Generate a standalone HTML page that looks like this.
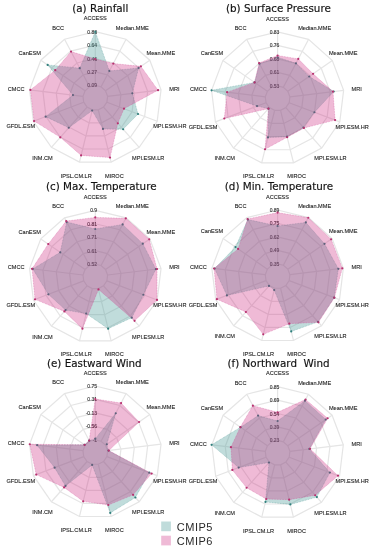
<!DOCTYPE html>
<html><head><meta charset="utf-8"><style>
html,body{margin:0;padding:0;background:#fff;width:375px;height:550px;overflow:hidden}
svg{display:block}
text{font-family:"Liberation Sans",Arial,sans-serif}
.tk{font-size:5px;fill:#333;stroke:#333;stroke-width:0.12px;text-anchor:end;dominant-baseline:central}
.al{font-size:5.6px;fill:#222;stroke:#222;stroke-width:0.1px;text-anchor:middle}
.ti{white-space:pre;font-family:"DejaVu Sans",sans-serif;font-size:10.35px;fill:#111;stroke:#111;stroke-width:0.15px;text-anchor:middle}
.lg{font-size:11px;letter-spacing:0.5px;fill:#2a2a2a;dominant-baseline:central}
</style></head><body>
<svg width="375" height="550" viewBox="0 0 375 550">
<polygon points="95.30,85.40 101.06,86.82 105.50,90.76 107.61,96.31 106.89,102.20 103.52,107.08 98.27,109.84 92.33,109.84 87.08,107.08 83.71,102.20 82.99,96.31 85.10,90.76 89.54,86.82" fill="none" stroke="#e5e5e5" stroke-width="1.2"/>
<polygon points="95.30,71.95 107.31,74.91 116.57,83.12 120.96,94.68 119.47,106.97 112.44,117.15 101.49,122.90 89.11,122.90 78.16,117.15 71.13,106.97 69.64,94.68 74.03,83.12 83.29,74.91" fill="none" stroke="#e5e5e5" stroke-width="1.2"/>
<polygon points="95.30,58.50 113.56,63.00 127.64,75.48 134.31,93.06 132.05,111.74 121.36,127.22 104.71,135.96 85.89,135.96 69.24,127.22 58.55,111.74 56.29,93.06 62.96,75.48 77.04,63.00" fill="none" stroke="#e5e5e5" stroke-width="1.2"/>
<polygon points="95.30,45.05 119.81,51.09 138.71,67.83 147.67,91.44 144.62,116.51 130.28,137.28 107.92,149.02 82.68,149.02 60.32,137.28 45.98,116.51 42.93,91.44 51.89,67.83 70.79,51.09" fill="none" stroke="#e5e5e5" stroke-width="1.2"/>
<polygon points="95.30,31.60 126.06,39.18 149.78,60.19 161.02,89.82 157.20,121.27 139.20,147.35 111.14,162.08 79.46,162.08 51.40,147.35 33.40,121.27 29.58,89.82 40.82,60.19 64.54,39.18" fill="none" stroke="#e5e5e5" stroke-width="1.2"/>
<line x1="95.30" y1="85.40" x2="95.30" y2="31.60" stroke="#e5e5e5" stroke-width="1.2"/>
<line x1="101.06" y1="86.82" x2="126.06" y2="39.18" stroke="#e5e5e5" stroke-width="1.2"/>
<line x1="105.50" y1="90.76" x2="149.78" y2="60.19" stroke="#e5e5e5" stroke-width="1.2"/>
<line x1="107.61" y1="96.31" x2="161.02" y2="89.82" stroke="#e5e5e5" stroke-width="1.2"/>
<line x1="106.89" y1="102.20" x2="157.20" y2="121.27" stroke="#e5e5e5" stroke-width="1.2"/>
<line x1="103.52" y1="107.08" x2="139.20" y2="147.35" stroke="#e5e5e5" stroke-width="1.2"/>
<line x1="98.27" y1="109.84" x2="111.14" y2="162.08" stroke="#e5e5e5" stroke-width="1.2"/>
<line x1="92.33" y1="109.84" x2="79.46" y2="162.08" stroke="#e5e5e5" stroke-width="1.2"/>
<line x1="87.08" y1="107.08" x2="51.40" y2="147.35" stroke="#e5e5e5" stroke-width="1.2"/>
<line x1="83.71" y1="102.20" x2="33.40" y2="121.27" stroke="#e5e5e5" stroke-width="1.2"/>
<line x1="82.99" y1="96.31" x2="29.58" y2="89.82" stroke="#e5e5e5" stroke-width="1.2"/>
<line x1="85.10" y1="90.76" x2="40.82" y2="60.19" stroke="#e5e5e5" stroke-width="1.2"/>
<line x1="89.54" y1="86.82" x2="64.54" y2="39.18" stroke="#e5e5e5" stroke-width="1.2"/>
<text x="97.10" y="85.40" class="tk">0.09</text>
<text x="97.10" y="71.95" class="tk">0.27</text>
<text x="97.10" y="58.50" class="tk">0.46</text>
<text x="97.10" y="45.05" class="tk">0.64</text>
<text x="97.10" y="31.60" class="tk">0.83</text>
<polygon points="95.30,31.80 109.38,70.97 138.59,67.92 132.33,93.30 138.03,114.01 123.15,129.24 102.98,128.97 92.14,110.62 68.78,127.74 45.65,116.63 72.96,95.09 47.65,64.91 79.73,68.14" fill="rgba(75,155,152,0.35)" stroke="rgba(60,140,138,0.6)" stroke-width="0.6" stroke-dasharray="0.8 0.8"/>
<circle cx="95.30" cy="31.80" r="1.1" fill="#2f7f7c"/>
<circle cx="109.38" cy="70.97" r="1.1" fill="#2f7f7c"/>
<circle cx="138.59" cy="67.92" r="1.1" fill="#2f7f7c"/>
<circle cx="132.33" cy="93.30" r="1.1" fill="#2f7f7c"/>
<circle cx="138.03" cy="114.01" r="1.1" fill="#2f7f7c"/>
<circle cx="123.15" cy="129.24" r="1.1" fill="#2f7f7c"/>
<circle cx="102.98" cy="128.97" r="1.1" fill="#2f7f7c"/>
<circle cx="92.14" cy="110.62" r="1.1" fill="#2f7f7c"/>
<circle cx="68.78" cy="127.74" r="1.1" fill="#2f7f7c"/>
<circle cx="45.65" cy="116.63" r="1.1" fill="#2f7f7c"/>
<circle cx="72.96" cy="95.09" r="1.1" fill="#2f7f7c"/>
<circle cx="47.65" cy="64.91" r="1.1" fill="#2f7f7c"/>
<circle cx="79.73" cy="68.14" r="1.1" fill="#2f7f7c"/>
<polygon points="95.30,59.00 113.28,63.53 140.89,66.33 158.04,90.18 124.00,108.69 117.85,123.25 110.04,157.61 81.11,155.38 60.29,137.32 34.06,121.03 30.38,89.92 55.22,70.14 71.04,51.58" fill="rgba(203,33,122,0.31)" stroke="rgba(205,60,140,0.6)" stroke-width="0.6" stroke-dasharray="0.8 0.8"/>
<circle cx="95.30" cy="59.00" r="1.1" fill="#b8306f"/>
<circle cx="113.28" cy="63.53" r="1.1" fill="#b8306f"/>
<circle cx="140.89" cy="66.33" r="1.1" fill="#b8306f"/>
<circle cx="158.04" cy="90.18" r="1.1" fill="#b8306f"/>
<circle cx="124.00" cy="108.69" r="1.1" fill="#b8306f"/>
<circle cx="117.85" cy="123.25" r="1.1" fill="#b8306f"/>
<circle cx="110.04" cy="157.61" r="1.1" fill="#b8306f"/>
<circle cx="81.11" cy="155.38" r="1.1" fill="#b8306f"/>
<circle cx="60.29" cy="137.32" r="1.1" fill="#b8306f"/>
<circle cx="34.06" cy="121.03" r="1.1" fill="#b8306f"/>
<circle cx="30.38" cy="89.92" r="1.1" fill="#b8306f"/>
<circle cx="55.22" cy="70.14" r="1.1" fill="#b8306f"/>
<circle cx="71.04" cy="51.58" r="1.1" fill="#b8306f"/>
<text x="95.30" y="20.45" class="al">ACCESS</text>
<text x="132.34" y="29.58" class="al">Median.MME</text>
<text x="160.89" y="54.88" class="al">Mean.MME</text>
<text x="174.42" y="90.54" class="al">MRI</text>
<text x="169.82" y="128.41" class="al">MPI.ESM.HR</text>
<text x="148.15" y="159.81" class="al">MPI.ESM.LR</text>
<text x="114.37" y="177.53" class="al">MIROC</text>
<text x="76.23" y="177.53" class="al">IPSL.CM.LR</text>
<text x="42.45" y="159.81" class="al">INM.CM</text>
<text x="20.78" y="128.41" class="al">GFDL.ESM</text>
<text x="16.18" y="90.54" class="al">CMCC</text>
<text x="29.71" y="54.88" class="al">CanESM</text>
<text x="58.26" y="29.58" class="al">BCC</text>
<text x="100.30" y="12.10" class="ti">(a) Rainfall</text>
<polygon points="277.60,85.90 283.36,87.32 287.80,91.26 289.91,96.81 289.19,102.70 285.82,107.58 280.57,110.34 274.63,110.34 269.38,107.58 266.01,102.70 265.29,96.81 267.40,91.26 271.84,87.32" fill="none" stroke="#e5e5e5" stroke-width="1.2"/>
<polygon points="277.60,72.38 289.65,75.34 298.94,83.57 303.34,95.18 301.84,107.49 294.79,117.71 283.80,123.47 271.40,123.47 260.41,117.71 253.36,107.49 251.86,95.18 256.26,83.57 265.55,75.34" fill="none" stroke="#e5e5e5" stroke-width="1.2"/>
<polygon points="277.60,58.85 295.93,63.37 310.07,75.89 316.76,93.54 314.49,112.29 303.76,127.83 287.04,136.60 268.16,136.60 251.44,127.83 240.71,112.29 238.44,93.54 245.13,75.89 259.27,63.37" fill="none" stroke="#e5e5e5" stroke-width="1.2"/>
<polygon points="277.60,45.32 302.22,51.39 321.20,68.21 330.19,91.91 327.13,117.09 312.73,137.95 290.28,149.74 264.92,149.74 242.47,137.95 228.07,117.09 225.01,91.91 234.00,68.21 252.98,51.39" fill="none" stroke="#e5e5e5" stroke-width="1.2"/>
<polygon points="277.60,31.80 308.50,39.42 332.33,60.52 343.62,90.28 339.78,121.88 321.70,148.08 293.51,162.87 261.69,162.87 233.50,148.08 215.42,121.88 211.58,90.28 222.87,60.52 246.70,39.42" fill="none" stroke="#e5e5e5" stroke-width="1.2"/>
<line x1="277.60" y1="85.90" x2="277.60" y2="31.80" stroke="#e5e5e5" stroke-width="1.2"/>
<line x1="283.36" y1="87.32" x2="308.50" y2="39.42" stroke="#e5e5e5" stroke-width="1.2"/>
<line x1="287.80" y1="91.26" x2="332.33" y2="60.52" stroke="#e5e5e5" stroke-width="1.2"/>
<line x1="289.91" y1="96.81" x2="343.62" y2="90.28" stroke="#e5e5e5" stroke-width="1.2"/>
<line x1="289.19" y1="102.70" x2="339.78" y2="121.88" stroke="#e5e5e5" stroke-width="1.2"/>
<line x1="285.82" y1="107.58" x2="321.70" y2="148.08" stroke="#e5e5e5" stroke-width="1.2"/>
<line x1="280.57" y1="110.34" x2="293.51" y2="162.87" stroke="#e5e5e5" stroke-width="1.2"/>
<line x1="274.63" y1="110.34" x2="261.69" y2="162.87" stroke="#e5e5e5" stroke-width="1.2"/>
<line x1="269.38" y1="107.58" x2="233.50" y2="148.08" stroke="#e5e5e5" stroke-width="1.2"/>
<line x1="266.01" y1="102.70" x2="215.42" y2="121.88" stroke="#e5e5e5" stroke-width="1.2"/>
<line x1="265.29" y1="96.81" x2="211.58" y2="90.28" stroke="#e5e5e5" stroke-width="1.2"/>
<line x1="267.40" y1="91.26" x2="222.87" y2="60.52" stroke="#e5e5e5" stroke-width="1.2"/>
<line x1="271.84" y1="87.32" x2="246.70" y2="39.42" stroke="#e5e5e5" stroke-width="1.2"/>
<text x="279.40" y="85.90" class="tk">0.53</text>
<text x="279.40" y="72.38" class="tk">0.61</text>
<text x="279.40" y="58.85" class="tk">0.68</text>
<text x="279.40" y="45.32" class="tk">0.76</text>
<text x="279.40" y="31.80" class="tk">0.83</text>
<polygon points="277.60,57.30 295.96,63.32 309.20,76.49 333.69,91.49 314.44,112.27 303.46,127.49 287.05,136.65 267.96,137.43 268.45,108.63 257.03,106.10 211.58,90.28 254.56,82.39 259.48,63.77" fill="rgba(75,155,152,0.35)" stroke="rgba(60,140,138,0.6)" stroke-width="0.6" stroke-dasharray="0.8 0.8"/>
<circle cx="277.60" cy="57.30" r="1.1" fill="#2f7f7c"/>
<circle cx="295.96" cy="63.32" r="1.1" fill="#2f7f7c"/>
<circle cx="309.20" cy="76.49" r="1.1" fill="#2f7f7c"/>
<circle cx="333.69" cy="91.49" r="1.1" fill="#2f7f7c"/>
<circle cx="314.44" cy="112.27" r="1.1" fill="#2f7f7c"/>
<circle cx="303.46" cy="127.49" r="1.1" fill="#2f7f7c"/>
<circle cx="287.05" cy="136.65" r="1.1" fill="#2f7f7c"/>
<circle cx="267.96" cy="137.43" r="1.1" fill="#2f7f7c"/>
<circle cx="268.45" cy="108.63" r="1.1" fill="#2f7f7c"/>
<circle cx="257.03" cy="106.10" r="1.1" fill="#2f7f7c"/>
<circle cx="211.58" cy="90.28" r="1.1" fill="#2f7f7c"/>
<circle cx="254.56" cy="82.39" r="1.1" fill="#2f7f7c"/>
<circle cx="259.48" cy="63.77" r="1.1" fill="#2f7f7c"/>
<polygon points="277.60,55.50 298.28,58.90 313.07,73.82 332.99,91.57 335.10,120.11 303.93,128.02 287.20,137.23 265.04,149.27 268.45,108.63 224.30,118.51 227.07,92.16 254.56,82.39 259.10,63.06" fill="rgba(203,33,122,0.31)" stroke="rgba(205,60,140,0.6)" stroke-width="0.6" stroke-dasharray="0.8 0.8"/>
<circle cx="277.60" cy="55.50" r="1.1" fill="#b8306f"/>
<circle cx="298.28" cy="58.90" r="1.1" fill="#b8306f"/>
<circle cx="313.07" cy="73.82" r="1.1" fill="#b8306f"/>
<circle cx="332.99" cy="91.57" r="1.1" fill="#b8306f"/>
<circle cx="335.10" cy="120.11" r="1.1" fill="#b8306f"/>
<circle cx="303.93" cy="128.02" r="1.1" fill="#b8306f"/>
<circle cx="287.20" cy="137.23" r="1.1" fill="#b8306f"/>
<circle cx="265.04" cy="149.27" r="1.1" fill="#b8306f"/>
<circle cx="268.45" cy="108.63" r="1.1" fill="#b8306f"/>
<circle cx="224.30" cy="118.51" r="1.1" fill="#b8306f"/>
<circle cx="227.07" cy="92.16" r="1.1" fill="#b8306f"/>
<circle cx="254.56" cy="82.39" r="1.1" fill="#b8306f"/>
<circle cx="259.10" cy="63.06" r="1.1" fill="#b8306f"/>
<text x="277.60" y="20.95" class="al">ACCESS</text>
<text x="314.64" y="30.08" class="al">Median.MME</text>
<text x="343.19" y="55.38" class="al">Mean.MME</text>
<text x="356.72" y="91.04" class="al">MRI</text>
<text x="352.12" y="128.91" class="al">MPI.ESM.HR</text>
<text x="330.45" y="160.31" class="al">MPI.ESM.LR</text>
<text x="296.67" y="178.03" class="al">MIROC</text>
<text x="258.53" y="178.03" class="al">IPSL.CM.LR</text>
<text x="224.75" y="160.31" class="al">INM.CM</text>
<text x="203.08" y="128.91" class="al">GFDL.ESM</text>
<text x="198.48" y="91.04" class="al">CMCC</text>
<text x="212.01" y="55.38" class="al">CanESM</text>
<text x="240.56" y="30.08" class="al">BCC</text>
<text x="278.40" y="12.00" class="ti">(b) Surface Pressure</text>
<polygon points="95.30,264.10 101.06,265.52 105.50,269.46 107.61,275.01 106.89,280.90 103.52,285.78 98.27,288.54 92.33,288.54 87.08,285.78 83.71,280.90 82.99,275.01 85.10,269.46 89.54,265.52" fill="none" stroke="#e5e5e5" stroke-width="1.2"/>
<polygon points="95.30,250.65 107.31,253.61 116.57,261.82 120.96,273.38 119.47,285.67 112.44,295.85 101.49,301.60 89.11,301.60 78.16,295.85 71.13,285.67 69.64,273.38 74.03,261.82 83.29,253.61" fill="none" stroke="#e5e5e5" stroke-width="1.2"/>
<polygon points="95.30,237.20 113.56,241.70 127.64,254.18 134.31,271.76 132.05,290.44 121.36,305.92 104.71,314.66 85.89,314.66 69.24,305.92 58.55,290.44 56.29,271.76 62.96,254.18 77.04,241.70" fill="none" stroke="#e5e5e5" stroke-width="1.2"/>
<polygon points="95.30,223.75 119.81,229.79 138.71,246.53 147.67,270.14 144.62,295.21 130.28,315.98 107.92,327.72 82.68,327.72 60.32,315.98 45.98,295.21 42.93,270.14 51.89,246.53 70.79,229.79" fill="none" stroke="#e5e5e5" stroke-width="1.2"/>
<polygon points="95.30,210.30 126.06,217.88 149.78,238.89 161.02,268.52 157.20,299.97 139.20,326.05 111.14,340.78 79.46,340.78 51.40,326.05 33.40,299.97 29.58,268.52 40.82,238.89 64.54,217.88" fill="none" stroke="#e5e5e5" stroke-width="1.2"/>
<line x1="95.30" y1="264.10" x2="95.30" y2="210.30" stroke="#e5e5e5" stroke-width="1.2"/>
<line x1="101.06" y1="265.52" x2="126.06" y2="217.88" stroke="#e5e5e5" stroke-width="1.2"/>
<line x1="105.50" y1="269.46" x2="149.78" y2="238.89" stroke="#e5e5e5" stroke-width="1.2"/>
<line x1="107.61" y1="275.01" x2="161.02" y2="268.52" stroke="#e5e5e5" stroke-width="1.2"/>
<line x1="106.89" y1="280.90" x2="157.20" y2="299.97" stroke="#e5e5e5" stroke-width="1.2"/>
<line x1="103.52" y1="285.78" x2="139.20" y2="326.05" stroke="#e5e5e5" stroke-width="1.2"/>
<line x1="98.27" y1="288.54" x2="111.14" y2="340.78" stroke="#e5e5e5" stroke-width="1.2"/>
<line x1="92.33" y1="288.54" x2="79.46" y2="340.78" stroke="#e5e5e5" stroke-width="1.2"/>
<line x1="87.08" y1="285.78" x2="51.40" y2="326.05" stroke="#e5e5e5" stroke-width="1.2"/>
<line x1="83.71" y1="280.90" x2="33.40" y2="299.97" stroke="#e5e5e5" stroke-width="1.2"/>
<line x1="82.99" y1="275.01" x2="29.58" y2="268.52" stroke="#e5e5e5" stroke-width="1.2"/>
<line x1="85.10" y1="269.46" x2="40.82" y2="238.89" stroke="#e5e5e5" stroke-width="1.2"/>
<line x1="89.54" y1="265.52" x2="64.54" y2="217.88" stroke="#e5e5e5" stroke-width="1.2"/>
<text x="97.10" y="264.10" class="tk">0.52</text>
<text x="97.10" y="250.65" class="tk">0.61</text>
<text x="97.10" y="237.20" class="tk">0.71</text>
<text x="97.10" y="223.75" class="tk">0.81</text>
<text x="97.10" y="210.30" class="tk">0.9</text>
<polygon points="95.30,229.00 122.63,224.44 142.79,243.72 155.86,269.15 143.36,294.73 131.77,317.67 108.15,328.64 86.16,313.59 65.59,310.03 48.36,294.30 32.76,268.91 60.24,252.30 66.72,222.04" fill="rgba(75,155,152,0.35)" stroke="rgba(60,140,138,0.6)" stroke-width="0.6" stroke-dasharray="0.8 0.8"/>
<circle cx="95.30" cy="229.00" r="1.1" fill="#2f7f7c"/>
<circle cx="122.63" cy="224.44" r="1.1" fill="#2f7f7c"/>
<circle cx="142.79" cy="243.72" r="1.1" fill="#2f7f7c"/>
<circle cx="155.86" cy="269.15" r="1.1" fill="#2f7f7c"/>
<circle cx="143.36" cy="294.73" r="1.1" fill="#2f7f7c"/>
<circle cx="131.77" cy="317.67" r="1.1" fill="#2f7f7c"/>
<circle cx="108.15" cy="328.64" r="1.1" fill="#2f7f7c"/>
<circle cx="86.16" cy="313.59" r="1.1" fill="#2f7f7c"/>
<circle cx="65.59" cy="310.03" r="1.1" fill="#2f7f7c"/>
<circle cx="48.36" cy="294.30" r="1.1" fill="#2f7f7c"/>
<circle cx="32.76" cy="268.91" r="1.1" fill="#2f7f7c"/>
<circle cx="60.24" cy="252.30" r="1.1" fill="#2f7f7c"/>
<circle cx="66.72" cy="222.04" r="1.1" fill="#2f7f7c"/>
<polygon points="95.30,217.40 125.83,218.33 149.21,239.29 157.05,269.00 157.01,299.90 134.56,320.81 98.48,289.41 82.45,328.64 64.40,311.38 34.99,299.37 32.06,268.82 48.23,244.01 66.21,221.07" fill="rgba(203,33,122,0.31)" stroke="rgba(205,60,140,0.6)" stroke-width="0.6" stroke-dasharray="0.8 0.8"/>
<circle cx="95.30" cy="217.40" r="1.1" fill="#b8306f"/>
<circle cx="125.83" cy="218.33" r="1.1" fill="#b8306f"/>
<circle cx="149.21" cy="239.29" r="1.1" fill="#b8306f"/>
<circle cx="157.05" cy="269.00" r="1.1" fill="#b8306f"/>
<circle cx="157.01" cy="299.90" r="1.1" fill="#b8306f"/>
<circle cx="134.56" cy="320.81" r="1.1" fill="#b8306f"/>
<circle cx="98.48" cy="289.41" r="1.1" fill="#b8306f"/>
<circle cx="82.45" cy="328.64" r="1.1" fill="#b8306f"/>
<circle cx="64.40" cy="311.38" r="1.1" fill="#b8306f"/>
<circle cx="34.99" cy="299.37" r="1.1" fill="#b8306f"/>
<circle cx="32.06" cy="268.82" r="1.1" fill="#b8306f"/>
<circle cx="48.23" cy="244.01" r="1.1" fill="#b8306f"/>
<circle cx="66.21" cy="221.07" r="1.1" fill="#b8306f"/>
<text x="95.30" y="199.15" class="al">ACCESS</text>
<text x="132.34" y="208.28" class="al">Median.MME</text>
<text x="160.89" y="233.58" class="al">Mean.MME</text>
<text x="174.42" y="269.24" class="al">MRI</text>
<text x="169.82" y="307.11" class="al">MPI.ESM.HR</text>
<text x="148.15" y="338.51" class="al">MPI.ESM.LR</text>
<text x="114.37" y="356.23" class="al">MIROC</text>
<text x="76.23" y="356.23" class="al">IPSL.CM.LR</text>
<text x="42.45" y="338.51" class="al">INM.CM</text>
<text x="20.78" y="307.11" class="al">GFDL.ESM</text>
<text x="16.18" y="269.24" class="al">CMCC</text>
<text x="29.71" y="233.58" class="al">CanESM</text>
<text x="58.26" y="208.28" class="al">BCC</text>
<text x="101.30" y="189.80" class="ti">(c) Max. Temperature</text>
<polygon points="277.60,263.80 283.36,265.22 287.80,269.16 289.91,274.71 289.19,280.60 285.82,285.48 280.57,288.24 274.63,288.24 269.38,285.48 266.01,280.60 265.29,274.71 267.40,269.16 271.84,265.22" fill="none" stroke="#e5e5e5" stroke-width="1.2"/>
<polygon points="277.60,250.35 289.61,253.31 298.87,261.52 303.26,273.08 301.77,285.37 294.74,295.55 283.79,301.30 271.41,301.30 260.46,295.55 253.43,285.37 251.94,273.08 256.33,261.52 265.59,253.31" fill="none" stroke="#e5e5e5" stroke-width="1.2"/>
<polygon points="277.60,236.90 295.86,241.40 309.94,253.88 316.61,271.46 314.35,290.14 303.66,305.62 287.01,314.36 268.19,314.36 251.54,305.62 240.85,290.14 238.59,271.46 245.26,253.88 259.34,241.40" fill="none" stroke="#e5e5e5" stroke-width="1.2"/>
<polygon points="277.60,223.45 302.11,229.49 321.01,246.23 329.97,269.84 326.92,294.91 312.58,315.68 290.22,327.42 264.98,327.42 242.62,315.68 228.28,294.91 225.23,269.84 234.19,246.23 253.09,229.49" fill="none" stroke="#e5e5e5" stroke-width="1.2"/>
<polygon points="277.60,210.00 308.36,217.58 332.08,238.59 343.32,268.22 339.50,299.67 321.50,325.75 293.44,340.48 261.76,340.48 233.70,325.75 215.70,299.67 211.88,268.22 223.12,238.59 246.84,217.58" fill="none" stroke="#e5e5e5" stroke-width="1.2"/>
<line x1="277.60" y1="263.80" x2="277.60" y2="210.00" stroke="#e5e5e5" stroke-width="1.2"/>
<line x1="283.36" y1="265.22" x2="308.36" y2="217.58" stroke="#e5e5e5" stroke-width="1.2"/>
<line x1="287.80" y1="269.16" x2="332.08" y2="238.59" stroke="#e5e5e5" stroke-width="1.2"/>
<line x1="289.91" y1="274.71" x2="343.32" y2="268.22" stroke="#e5e5e5" stroke-width="1.2"/>
<line x1="289.19" y1="280.60" x2="339.50" y2="299.67" stroke="#e5e5e5" stroke-width="1.2"/>
<line x1="285.82" y1="285.48" x2="321.50" y2="325.75" stroke="#e5e5e5" stroke-width="1.2"/>
<line x1="280.57" y1="288.24" x2="293.44" y2="340.48" stroke="#e5e5e5" stroke-width="1.2"/>
<line x1="274.63" y1="288.24" x2="261.76" y2="340.48" stroke="#e5e5e5" stroke-width="1.2"/>
<line x1="269.38" y1="285.48" x2="233.70" y2="325.75" stroke="#e5e5e5" stroke-width="1.2"/>
<line x1="266.01" y1="280.60" x2="215.70" y2="299.67" stroke="#e5e5e5" stroke-width="1.2"/>
<line x1="265.29" y1="274.71" x2="211.88" y2="268.22" stroke="#e5e5e5" stroke-width="1.2"/>
<line x1="267.40" y1="269.16" x2="223.12" y2="238.59" stroke="#e5e5e5" stroke-width="1.2"/>
<line x1="271.84" y1="265.22" x2="246.84" y2="217.58" stroke="#e5e5e5" stroke-width="1.2"/>
<text x="279.40" y="263.80" class="tk">0.35</text>
<text x="279.40" y="250.35" class="tk">0.49</text>
<text x="279.40" y="236.90" class="tk">0.62</text>
<text x="279.40" y="223.45" class="tk">0.75</text>
<text x="279.40" y="210.00" class="tk">0.89</text>
<polygon points="277.60,226.00 305.81,222.45 324.51,243.82 338.35,268.82 334.17,297.65 318.05,321.86 291.22,331.45 274.20,289.99 268.98,285.93 226.92,295.42 214.56,268.55 235.46,247.12 247.86,219.53" fill="rgba(75,155,152,0.35)" stroke="rgba(60,140,138,0.6)" stroke-width="0.6" stroke-dasharray="0.8 0.8"/>
<circle cx="277.60" cy="226.00" r="1.1" fill="#2f7f7c"/>
<circle cx="305.81" cy="222.45" r="1.1" fill="#2f7f7c"/>
<circle cx="324.51" cy="243.82" r="1.1" fill="#2f7f7c"/>
<circle cx="338.35" cy="268.82" r="1.1" fill="#2f7f7c"/>
<circle cx="334.17" cy="297.65" r="1.1" fill="#2f7f7c"/>
<circle cx="318.05" cy="321.86" r="1.1" fill="#2f7f7c"/>
<circle cx="291.22" cy="331.45" r="1.1" fill="#2f7f7c"/>
<circle cx="274.20" cy="289.99" r="1.1" fill="#2f7f7c"/>
<circle cx="268.98" cy="285.93" r="1.1" fill="#2f7f7c"/>
<circle cx="226.92" cy="295.42" r="1.1" fill="#2f7f7c"/>
<circle cx="214.56" cy="268.55" r="1.1" fill="#2f7f7c"/>
<circle cx="235.46" cy="247.12" r="1.1" fill="#2f7f7c"/>
<circle cx="247.86" cy="219.53" r="1.1" fill="#2f7f7c"/>
<polygon points="277.60,212.60 308.27,217.76 331.09,239.28 342.32,268.34 334.36,297.72 318.45,322.31 289.30,323.68 263.26,334.36 245.90,311.98 216.92,299.21 214.07,268.49 238.10,248.93 247.58,219.00" fill="rgba(203,33,122,0.31)" stroke="rgba(205,60,140,0.6)" stroke-width="0.6" stroke-dasharray="0.8 0.8"/>
<circle cx="277.60" cy="212.60" r="1.1" fill="#b8306f"/>
<circle cx="308.27" cy="217.76" r="1.1" fill="#b8306f"/>
<circle cx="331.09" cy="239.28" r="1.1" fill="#b8306f"/>
<circle cx="342.32" cy="268.34" r="1.1" fill="#b8306f"/>
<circle cx="334.36" cy="297.72" r="1.1" fill="#b8306f"/>
<circle cx="318.45" cy="322.31" r="1.1" fill="#b8306f"/>
<circle cx="289.30" cy="323.68" r="1.1" fill="#b8306f"/>
<circle cx="263.26" cy="334.36" r="1.1" fill="#b8306f"/>
<circle cx="245.90" cy="311.98" r="1.1" fill="#b8306f"/>
<circle cx="216.92" cy="299.21" r="1.1" fill="#b8306f"/>
<circle cx="214.07" cy="268.49" r="1.1" fill="#b8306f"/>
<circle cx="238.10" cy="248.93" r="1.1" fill="#b8306f"/>
<circle cx="247.58" cy="219.00" r="1.1" fill="#b8306f"/>
<text x="277.60" y="198.85" class="al">ACCESS</text>
<text x="314.64" y="207.98" class="al">Median.MME</text>
<text x="343.19" y="233.28" class="al">Mean.MME</text>
<text x="356.72" y="268.94" class="al">MRI</text>
<text x="352.12" y="306.81" class="al">MPI.ESM.HR</text>
<text x="330.45" y="338.21" class="al">MPI.ESM.LR</text>
<text x="296.67" y="355.93" class="al">MIROC</text>
<text x="258.53" y="355.93" class="al">IPSL.CM.LR</text>
<text x="224.75" y="338.21" class="al">INM.CM</text>
<text x="203.08" y="306.81" class="al">GFDL.ESM</text>
<text x="198.48" y="268.94" class="al">CMCC</text>
<text x="212.01" y="233.28" class="al">CanESM</text>
<text x="240.56" y="207.98" class="al">BCC</text>
<text x="279.00" y="189.90" class="ti">(d) Min. Temperature</text>
<polygon points="95.30,439.80 101.06,441.22 105.50,445.16 107.61,450.71 106.89,456.60 103.52,461.48 98.27,464.24 92.33,464.24 87.08,461.48 83.71,456.60 82.99,450.71 85.10,445.16 89.54,441.22" fill="none" stroke="#e5e5e5" stroke-width="1.2"/>
<polygon points="95.30,426.35 107.31,429.31 116.57,437.52 120.96,449.08 119.47,461.37 112.44,471.55 101.49,477.30 89.11,477.30 78.16,471.55 71.13,461.37 69.64,449.08 74.03,437.52 83.29,429.31" fill="none" stroke="#e5e5e5" stroke-width="1.2"/>
<polygon points="95.30,412.90 113.56,417.40 127.64,429.88 134.31,447.46 132.05,466.14 121.36,481.62 104.71,490.36 85.89,490.36 69.24,481.62 58.55,466.14 56.29,447.46 62.96,429.88 77.04,417.40" fill="none" stroke="#e5e5e5" stroke-width="1.2"/>
<polygon points="95.30,399.45 119.81,405.49 138.71,422.23 147.67,445.84 144.62,470.91 130.28,491.68 107.92,503.42 82.68,503.42 60.32,491.68 45.98,470.91 42.93,445.84 51.89,422.23 70.79,405.49" fill="none" stroke="#e5e5e5" stroke-width="1.2"/>
<polygon points="95.30,386.00 126.06,393.58 149.78,414.59 161.02,444.22 157.20,475.67 139.20,501.75 111.14,516.48 79.46,516.48 51.40,501.75 33.40,475.67 29.58,444.22 40.82,414.59 64.54,393.58" fill="none" stroke="#e5e5e5" stroke-width="1.2"/>
<line x1="95.30" y1="439.80" x2="95.30" y2="386.00" stroke="#e5e5e5" stroke-width="1.2"/>
<line x1="101.06" y1="441.22" x2="126.06" y2="393.58" stroke="#e5e5e5" stroke-width="1.2"/>
<line x1="105.50" y1="445.16" x2="149.78" y2="414.59" stroke="#e5e5e5" stroke-width="1.2"/>
<line x1="107.61" y1="450.71" x2="161.02" y2="444.22" stroke="#e5e5e5" stroke-width="1.2"/>
<line x1="106.89" y1="456.60" x2="157.20" y2="475.67" stroke="#e5e5e5" stroke-width="1.2"/>
<line x1="103.52" y1="461.48" x2="139.20" y2="501.75" stroke="#e5e5e5" stroke-width="1.2"/>
<line x1="98.27" y1="464.24" x2="111.14" y2="516.48" stroke="#e5e5e5" stroke-width="1.2"/>
<line x1="92.33" y1="464.24" x2="79.46" y2="516.48" stroke="#e5e5e5" stroke-width="1.2"/>
<line x1="87.08" y1="461.48" x2="51.40" y2="501.75" stroke="#e5e5e5" stroke-width="1.2"/>
<line x1="83.71" y1="456.60" x2="33.40" y2="475.67" stroke="#e5e5e5" stroke-width="1.2"/>
<line x1="82.99" y1="450.71" x2="29.58" y2="444.22" stroke="#e5e5e5" stroke-width="1.2"/>
<line x1="85.10" y1="445.16" x2="40.82" y2="414.59" stroke="#e5e5e5" stroke-width="1.2"/>
<line x1="89.54" y1="441.22" x2="64.54" y2="393.58" stroke="#e5e5e5" stroke-width="1.2"/>
<text x="97.10" y="439.80" class="tk">-1</text>
<text x="97.10" y="426.35" class="tk">-0.56</text>
<text x="97.10" y="412.90" class="tk">-0.13</text>
<text x="97.10" y="399.45" class="tk">0.31</text>
<text x="97.10" y="386.00" class="tk">0.75</text>
<polygon points="95.30,438.70 115.75,413.24 106.82,444.25 108.40,450.61 149.25,472.66 135.42,497.48 110.26,512.88 92.16,464.92 65.46,485.88 54.63,467.63 37.13,445.14 84.60,444.82 89.26,440.69" fill="rgba(75,155,152,0.35)" stroke="rgba(60,140,138,0.6)" stroke-width="0.6" stroke-dasharray="0.8 0.8"/>
<circle cx="95.30" cy="438.70" r="1.1" fill="#2f7f7c"/>
<circle cx="115.75" cy="413.24" r="1.1" fill="#2f7f7c"/>
<circle cx="106.82" cy="444.25" r="1.1" fill="#2f7f7c"/>
<circle cx="108.40" cy="450.61" r="1.1" fill="#2f7f7c"/>
<circle cx="149.25" cy="472.66" r="1.1" fill="#2f7f7c"/>
<circle cx="135.42" cy="497.48" r="1.1" fill="#2f7f7c"/>
<circle cx="110.26" cy="512.88" r="1.1" fill="#2f7f7c"/>
<circle cx="92.16" cy="464.92" r="1.1" fill="#2f7f7c"/>
<circle cx="65.46" cy="485.88" r="1.1" fill="#2f7f7c"/>
<circle cx="54.63" cy="467.63" r="1.1" fill="#2f7f7c"/>
<circle cx="37.13" cy="445.14" r="1.1" fill="#2f7f7c"/>
<circle cx="84.60" cy="444.82" r="1.1" fill="#2f7f7c"/>
<circle cx="89.26" cy="440.69" r="1.1" fill="#2f7f7c"/>
<polygon points="95.30,399.00 121.09,403.06 139.08,421.98 108.80,450.56 151.68,473.58 133.10,494.87 108.32,505.02 83.19,501.33 64.13,487.38 36.21,474.61 29.78,444.24 84.60,444.82 89.17,440.51" fill="rgba(203,33,122,0.31)" stroke="rgba(205,60,140,0.6)" stroke-width="0.6" stroke-dasharray="0.8 0.8"/>
<circle cx="95.30" cy="399.00" r="1.1" fill="#b8306f"/>
<circle cx="121.09" cy="403.06" r="1.1" fill="#b8306f"/>
<circle cx="139.08" cy="421.98" r="1.1" fill="#b8306f"/>
<circle cx="108.80" cy="450.56" r="1.1" fill="#b8306f"/>
<circle cx="151.68" cy="473.58" r="1.1" fill="#b8306f"/>
<circle cx="133.10" cy="494.87" r="1.1" fill="#b8306f"/>
<circle cx="108.32" cy="505.02" r="1.1" fill="#b8306f"/>
<circle cx="83.19" cy="501.33" r="1.1" fill="#b8306f"/>
<circle cx="64.13" cy="487.38" r="1.1" fill="#b8306f"/>
<circle cx="36.21" cy="474.61" r="1.1" fill="#b8306f"/>
<circle cx="29.78" cy="444.24" r="1.1" fill="#b8306f"/>
<circle cx="84.60" cy="444.82" r="1.1" fill="#b8306f"/>
<circle cx="89.17" cy="440.51" r="1.1" fill="#b8306f"/>
<text x="95.30" y="374.85" class="al">ACCESS</text>
<text x="132.34" y="383.98" class="al">Median.MME</text>
<text x="160.89" y="409.28" class="al">Mean.MME</text>
<text x="174.42" y="444.94" class="al">MRI</text>
<text x="169.82" y="482.81" class="al">MPI.ESM.HR</text>
<text x="148.15" y="514.21" class="al">MPI.ESM.LR</text>
<text x="114.37" y="531.93" class="al">MIROC</text>
<text x="76.23" y="531.93" class="al">IPSL.CM.LR</text>
<text x="42.45" y="514.21" class="al">INM.CM</text>
<text x="20.78" y="482.81" class="al">GFDL.ESM</text>
<text x="16.18" y="444.94" class="al">CMCC</text>
<text x="29.71" y="409.28" class="al">CanESM</text>
<text x="58.26" y="383.98" class="al">BCC</text>
<text x="94.30" y="367.00" class="ti">(e) Eastward Wind</text>
<polygon points="277.60,440.40 283.36,441.82 287.80,445.76 289.91,451.31 289.19,457.20 285.82,462.08 280.57,464.84 274.63,464.84 269.38,462.08 266.01,457.20 265.29,451.31 267.40,445.76 271.84,441.82" fill="none" stroke="#e5e5e5" stroke-width="1.2"/>
<polygon points="277.60,426.95 289.61,429.91 298.87,438.12 303.26,449.68 301.77,461.97 294.74,472.15 283.79,477.90 271.41,477.90 260.46,472.15 253.43,461.97 251.94,449.68 256.33,438.12 265.59,429.91" fill="none" stroke="#e5e5e5" stroke-width="1.2"/>
<polygon points="277.60,413.50 295.86,418.00 309.94,430.48 316.61,448.06 314.35,466.74 303.66,482.22 287.01,490.96 268.19,490.96 251.54,482.22 240.85,466.74 238.59,448.06 245.26,430.48 259.34,418.00" fill="none" stroke="#e5e5e5" stroke-width="1.2"/>
<polygon points="277.60,400.05 302.11,406.09 321.01,422.83 329.97,446.44 326.92,471.51 312.58,492.28 290.22,504.02 264.98,504.02 242.62,492.28 228.28,471.51 225.23,446.44 234.19,422.83 253.09,406.09" fill="none" stroke="#e5e5e5" stroke-width="1.2"/>
<polygon points="277.60,386.60 308.36,394.18 332.08,415.19 343.32,444.82 339.50,476.27 321.50,502.35 293.44,517.08 261.76,517.08 233.70,502.35 215.70,476.27 211.88,444.82 223.12,415.19 246.84,394.18" fill="none" stroke="#e5e5e5" stroke-width="1.2"/>
<line x1="277.60" y1="440.40" x2="277.60" y2="386.60" stroke="#e5e5e5" stroke-width="1.2"/>
<line x1="283.36" y1="441.82" x2="308.36" y2="394.18" stroke="#e5e5e5" stroke-width="1.2"/>
<line x1="287.80" y1="445.76" x2="332.08" y2="415.19" stroke="#e5e5e5" stroke-width="1.2"/>
<line x1="289.91" y1="451.31" x2="343.32" y2="444.82" stroke="#e5e5e5" stroke-width="1.2"/>
<line x1="289.19" y1="457.20" x2="339.50" y2="476.27" stroke="#e5e5e5" stroke-width="1.2"/>
<line x1="285.82" y1="462.08" x2="321.50" y2="502.35" stroke="#e5e5e5" stroke-width="1.2"/>
<line x1="280.57" y1="464.84" x2="293.44" y2="517.08" stroke="#e5e5e5" stroke-width="1.2"/>
<line x1="274.63" y1="464.84" x2="261.76" y2="517.08" stroke="#e5e5e5" stroke-width="1.2"/>
<line x1="269.38" y1="462.08" x2="233.70" y2="502.35" stroke="#e5e5e5" stroke-width="1.2"/>
<line x1="266.01" y1="457.20" x2="215.70" y2="476.27" stroke="#e5e5e5" stroke-width="1.2"/>
<line x1="265.29" y1="451.31" x2="211.88" y2="444.82" stroke="#e5e5e5" stroke-width="1.2"/>
<line x1="267.40" y1="445.76" x2="223.12" y2="415.19" stroke="#e5e5e5" stroke-width="1.2"/>
<line x1="271.84" y1="441.82" x2="246.84" y2="394.18" stroke="#e5e5e5" stroke-width="1.2"/>
<text x="279.40" y="440.40" class="tk">0.23</text>
<text x="279.40" y="426.95" class="tk">0.39</text>
<text x="279.40" y="413.50" class="tk">0.54</text>
<text x="279.40" y="400.05" class="tk">0.69</text>
<text x="279.40" y="386.60" class="tk">0.85</text>
<polygon points="277.60,421.00 304.97,400.65 325.74,419.57 309.37,448.94 329.87,472.62 316.86,497.11 290.33,504.45 265.49,501.93 268.98,462.53 238.70,467.55 211.58,444.78 240.57,427.24 258.08,415.61" fill="rgba(75,155,152,0.35)" stroke="rgba(60,140,138,0.6)" stroke-width="0.6" stroke-dasharray="0.8 0.8"/>
<circle cx="277.60" cy="421.00" r="1.1" fill="#2f7f7c"/>
<circle cx="304.97" cy="400.65" r="1.1" fill="#2f7f7c"/>
<circle cx="325.74" cy="419.57" r="1.1" fill="#2f7f7c"/>
<circle cx="309.37" cy="448.94" r="1.1" fill="#2f7f7c"/>
<circle cx="329.87" cy="472.62" r="1.1" fill="#2f7f7c"/>
<circle cx="316.86" cy="497.11" r="1.1" fill="#2f7f7c"/>
<circle cx="290.33" cy="504.45" r="1.1" fill="#2f7f7c"/>
<circle cx="265.49" cy="501.93" r="1.1" fill="#2f7f7c"/>
<circle cx="268.98" cy="462.53" r="1.1" fill="#2f7f7c"/>
<circle cx="238.70" cy="467.55" r="1.1" fill="#2f7f7c"/>
<circle cx="211.58" cy="444.78" r="1.1" fill="#2f7f7c"/>
<circle cx="240.57" cy="427.24" r="1.1" fill="#2f7f7c"/>
<circle cx="258.08" cy="415.61" r="1.1" fill="#2f7f7c"/>
<polygon points="277.60,412.30 305.58,399.50 327.64,418.26 310.06,448.86 338.00,475.71 315.20,495.24 289.16,499.70 266.21,499.02 246.63,487.76 232.35,469.96 230.94,447.13 240.32,427.07 252.88,405.69" fill="rgba(203,33,122,0.31)" stroke="rgba(205,60,140,0.6)" stroke-width="0.6" stroke-dasharray="0.8 0.8"/>
<circle cx="277.60" cy="412.30" r="1.1" fill="#b8306f"/>
<circle cx="305.58" cy="399.50" r="1.1" fill="#b8306f"/>
<circle cx="327.64" cy="418.26" r="1.1" fill="#b8306f"/>
<circle cx="310.06" cy="448.86" r="1.1" fill="#b8306f"/>
<circle cx="338.00" cy="475.71" r="1.1" fill="#b8306f"/>
<circle cx="315.20" cy="495.24" r="1.1" fill="#b8306f"/>
<circle cx="289.16" cy="499.70" r="1.1" fill="#b8306f"/>
<circle cx="266.21" cy="499.02" r="1.1" fill="#b8306f"/>
<circle cx="246.63" cy="487.76" r="1.1" fill="#b8306f"/>
<circle cx="232.35" cy="469.96" r="1.1" fill="#b8306f"/>
<circle cx="230.94" cy="447.13" r="1.1" fill="#b8306f"/>
<circle cx="240.32" cy="427.07" r="1.1" fill="#b8306f"/>
<circle cx="252.88" cy="405.69" r="1.1" fill="#b8306f"/>
<text x="277.60" y="375.45" class="al">ACCESS</text>
<text x="314.64" y="384.58" class="al">Median.MME</text>
<text x="343.19" y="409.88" class="al">Mean.MME</text>
<text x="356.72" y="445.54" class="al">MRI</text>
<text x="352.12" y="483.41" class="al">MPI.ESM.HR</text>
<text x="330.45" y="514.81" class="al">MPI.ESM.LR</text>
<text x="296.67" y="532.53" class="al">MIROC</text>
<text x="258.53" y="532.53" class="al">IPSL.CM.LR</text>
<text x="224.75" y="514.81" class="al">INM.CM</text>
<text x="203.08" y="483.41" class="al">GFDL.ESM</text>
<text x="198.48" y="445.54" class="al">CMCC</text>
<text x="212.01" y="409.88" class="al">CanESM</text>
<text x="240.56" y="384.58" class="al">BCC</text>
<text x="278.55" y="366.50" class="ti">(f) Northward  Wind</text>
<rect x="161.2" y="521.5" width="9.7" height="9.7" fill="rgba(75,155,152,0.35)"/>
<rect x="161.2" y="535.7" width="9.7" height="9.7" fill="rgba(203,33,122,0.31)"/>
<text x="176.8" y="526.6" class="lg">CMIP5</text>
<text x="176.8" y="540.9" class="lg">CMIP6</text>
</svg></body></html>
